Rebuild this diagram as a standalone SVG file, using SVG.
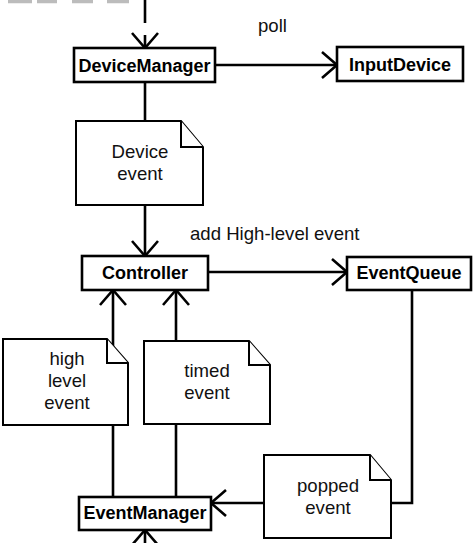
<svg xmlns="http://www.w3.org/2000/svg" width="474" height="543" viewBox="0 0 474 543">
<defs>
<marker id="arr" markerUnits="userSpaceOnUse" markerWidth="40" markerHeight="40" viewBox="-20 -20 40 40" refX="0" refY="0" orient="auto" overflow="visible">
<path d="M-15,-13 L0,0 L-15,13" fill="none" stroke="#000" stroke-width="2.6"/>
</marker>
<style>
.ln{fill:none;stroke:#000;stroke-width:2.6}
.box{fill:#fff;stroke:#000;stroke-width:2.6}
.note{fill:#fff;stroke:#000;stroke-width:2}
.nb{font-family:"Liberation Sans",Arial,sans-serif;font-size:18px;font-weight:bold;text-anchor:middle;fill:#000}
.tx{font-family:"Liberation Sans",Arial,sans-serif;font-size:18.6px;text-anchor:middle;fill:#111}
.lbl{font-family:"Liberation Sans",Arial,sans-serif;font-size:18.6px;fill:#111}
</style>
</defs>
<g id="background">
<path d="M8,1.5 H32 M37,1.5 H57 M72,1.5 H93 M107,1.5 H129" stroke="#bcbcbc" stroke-width="3.5" fill="none"/>
</g>
<g id="connectors">
<path class="ln" d="M145,0 V23"/>
<path class="ln" d="M145,35 V48" marker-end="url(#arr)"/>
<path class="ln" d="M215,65 H337" marker-end="url(#arr)"/>
<path class="ln" d="M145,82 V256" marker-end="url(#arr)"/>
<path class="ln" d="M208,272 H347" marker-end="url(#arr)"/>
<path class="ln" d="M113,497 V290" marker-end="url(#arr)"/>
<path class="ln" d="M176,497 V290" marker-end="url(#arr)"/>
<path class="ln" d="M412,290 V503 H211" marker-end="url(#arr)"/>
<path class="ln" d="M145,545 V530" marker-end="url(#arr)"/>
<text class="lbl" x="258" y="32">poll</text>
<text class="lbl" x="190" y="240">add High-level event</text>
</g>
<g id="DeviceManager">
<rect class="box" x="74" y="48" width="141" height="34"/>
<text class="nb" x="144.5" y="72">DeviceManager</text>
</g>
<g id="InputDevice">
<rect class="box" x="337" y="47" width="126" height="34"/>
<text class="nb" x="400" y="71">InputDevice</text>
</g>
<g id="DeviceEventNote">
<path class="note" d="M76,121 H181 L203,147 V205 H76 Z"/>
<path class="note" d="M181,121 V147 H203"/>
<text class="tx" x="140" y="158">Device</text>
<text class="tx" x="140" y="180">event</text>
</g>
<g id="Controller">
<rect class="box" x="82" y="256" width="126" height="34"/>
<text class="nb" x="145" y="279">Controller</text>
</g>
<g id="EventQueue">
<rect class="box" x="347" y="257" width="124" height="33"/>
<text class="nb" x="409" y="279">EventQueue</text>
</g>
<g id="HighLevelEventNote">
<path class="note" d="M3,339 H107 L128,363 V425 H3 Z"/>
<path class="note" d="M107,339 V363 H128"/>
<text class="tx" x="67" y="365">high</text>
<text class="tx" x="67" y="387">level</text>
<text class="tx" x="67" y="409">event</text>
</g>
<g id="TimedEventNote">
<path class="note" d="M144,341 H249 L270,365 V424 H144 Z"/>
<path class="note" d="M249,341 V365 H270"/>
<text class="tx" x="207" y="377">timed</text>
<text class="tx" x="207" y="399">event</text>
</g>
<g id="PoppedEventNote">
<path class="note" d="M264,455 H370 L391,480 V538 H264 Z"/>
<path class="note" d="M370,455 V480 H391"/>
<text class="tx" x="328" y="492">popped</text>
<text class="tx" x="328" y="514">event</text>
</g>
<g id="EventManager">
<rect class="box" x="79" y="497" width="132" height="33"/>
<text class="nb" x="145" y="519">EventManager</text>
</g>
</svg>
